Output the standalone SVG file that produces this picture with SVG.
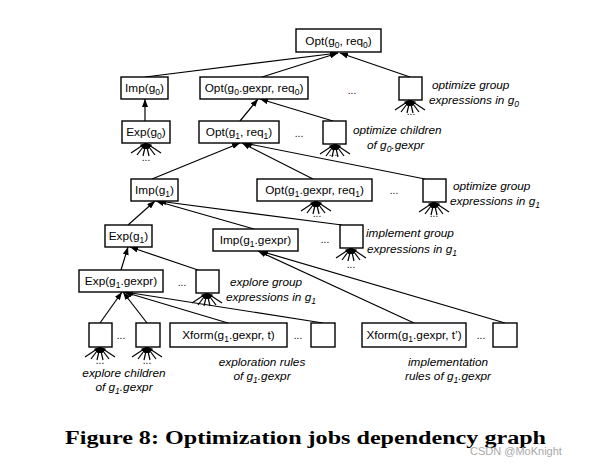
<svg xmlns="http://www.w3.org/2000/svg" width="594" height="468" viewBox="0 0 594 468">
<style>
.b{fill:#fff;stroke:#000;stroke-width:1.4}
.t{font-family:"Liberation Sans",Arial,sans-serif;font-size:11.8px;fill:#000;text-anchor:middle}
.i{font-family:"Liberation Sans",Arial,sans-serif;font-size:11.8px;font-style:italic;fill:#000}
.m{text-anchor:middle}
.s{font-size:8.5px}
.d{font-family:"Liberation Sans",Arial,sans-serif;font-size:10px;fill:#000;text-anchor:middle}
.e line{stroke:#000;stroke-width:1.2;marker-end:url(#ah)}
.f line{stroke:#000;stroke-width:1.2;marker-end:url(#fh)}
</style>
<defs>
<marker id="ah" viewBox="0 0 8 6" refX="8" refY="3" markerWidth="8" markerHeight="6" markerUnits="userSpaceOnUse" orient="auto"><path d="M0,0 L8,3 L0,6 z"/></marker>
<marker id="fh" viewBox="0 0 6 4" refX="6" refY="2" markerWidth="6" markerHeight="4" markerUnits="userSpaceOnUse" orient="auto"><path d="M0,0 L6,2 L0,4 z"/></marker>
</defs>
<rect width="594" height="468" fill="#fff"/>
<g id="connectors">
<g class="e">
<line x1="145" y1="77" x2="338" y2="53"/>
<line x1="262" y1="77" x2="338" y2="53"/>
<line x1="410" y1="77" x2="340" y2="53"/>
<line x1="145" y1="121" x2="145" y2="99"/>
<line x1="240" y1="121" x2="258" y2="99"/>
<line x1="333" y1="121" x2="260" y2="99"/>
<line x1="152" y1="179" x2="240" y2="143"/>
<line x1="313" y1="179" x2="242" y2="143"/>
<line x1="425" y1="179" x2="244" y2="143"/>
<line x1="128" y1="225" x2="155" y2="201"/>
<line x1="254" y1="229" x2="156" y2="201"/>
<line x1="342" y1="225" x2="158" y2="201"/>
<line x1="121" y1="270" x2="128" y2="247"/>
<line x1="198" y1="270" x2="130" y2="247"/>
<line x1="100" y1="323" x2="122" y2="292"/>
<line x1="147" y1="323" x2="123" y2="292"/>
<line x1="228" y1="323" x2="124" y2="292"/>
<line x1="323" y1="323" x2="125" y2="292"/>
<line x1="414" y1="323" x2="258" y2="251"/>
<line x1="505" y1="323" x2="260" y2="251"/>
</g>
<g class="f" transform="translate(410,100)"><line x1="-15" y1="10" x2="0" y2="0"/><line x1="-9" y1="12" x2="0" y2="0"/><line x1="-3" y1="13" x2="0" y2="0"/><line x1="3" y1="13" x2="0" y2="0"/><line x1="9" y1="12" x2="0" y2="0"/><line x1="15" y1="10" x2="0" y2="0"/></g>
<g class="f" transform="translate(146,143)"><line x1="-15" y1="10" x2="0" y2="0"/><line x1="-9" y1="12" x2="0" y2="0"/><line x1="-3" y1="13" x2="0" y2="0"/><line x1="3" y1="13" x2="0" y2="0"/><line x1="9" y1="12" x2="0" y2="0"/><line x1="15" y1="10" x2="0" y2="0"/></g>
<g class="f" transform="translate(335,144)"><line x1="-15" y1="10" x2="0" y2="0"/><line x1="-9" y1="12" x2="0" y2="0"/><line x1="-3" y1="13" x2="0" y2="0"/><line x1="3" y1="13" x2="0" y2="0"/><line x1="9" y1="12" x2="0" y2="0"/><line x1="15" y1="10" x2="0" y2="0"/></g>
<g class="f" transform="translate(316,201)"><line x1="-15" y1="10" x2="0" y2="0"/><line x1="-9" y1="12" x2="0" y2="0"/><line x1="-3" y1="13" x2="0" y2="0"/><line x1="3" y1="13" x2="0" y2="0"/><line x1="9" y1="12" x2="0" y2="0"/><line x1="15" y1="10" x2="0" y2="0"/></g>
<g class="f" transform="translate(434,202)"><line x1="-15" y1="10" x2="0" y2="0"/><line x1="-9" y1="12" x2="0" y2="0"/><line x1="-3" y1="13" x2="0" y2="0"/><line x1="3" y1="13" x2="0" y2="0"/><line x1="9" y1="12" x2="0" y2="0"/><line x1="15" y1="10" x2="0" y2="0"/></g>
<g class="f" transform="translate(351,248)"><line x1="-15" y1="10" x2="0" y2="0"/><line x1="-9" y1="12" x2="0" y2="0"/><line x1="-3" y1="13" x2="0" y2="0"/><line x1="3" y1="13" x2="0" y2="0"/><line x1="9" y1="12" x2="0" y2="0"/><line x1="15" y1="10" x2="0" y2="0"/></g>
<g class="f" transform="translate(207,293)"><line x1="-15" y1="10" x2="0" y2="0"/><line x1="-9" y1="12" x2="0" y2="0"/><line x1="-3" y1="13" x2="0" y2="0"/><line x1="3" y1="13" x2="0" y2="0"/><line x1="9" y1="12" x2="0" y2="0"/><line x1="15" y1="10" x2="0" y2="0"/></g>
<g class="f" transform="translate(100,347)"><line x1="-15" y1="10" x2="0" y2="0"/><line x1="-9" y1="12" x2="0" y2="0"/><line x1="-3" y1="13" x2="0" y2="0"/><line x1="3" y1="13" x2="0" y2="0"/><line x1="9" y1="12" x2="0" y2="0"/><line x1="15" y1="10" x2="0" y2="0"/></g>
<g class="f" transform="translate(147,347)"><line x1="-15" y1="10" x2="0" y2="0"/><line x1="-9" y1="12" x2="0" y2="0"/><line x1="-3" y1="13" x2="0" y2="0"/><line x1="3" y1="13" x2="0" y2="0"/><line x1="9" y1="12" x2="0" y2="0"/><line x1="15" y1="10" x2="0" y2="0"/></g>
</g>
<g id="n_opt_g0"><rect class="b" x="296" y="29" width="85" height="23"/><text class="t" x="338.5" y="45">Opt(g<tspan class="s" dy="3">0</tspan><tspan dy="-3">, req</tspan><tspan class="s" dy="3">0</tspan><tspan dy="-3">)</tspan></text></g>
<g id="n_imp_g0"><rect class="b" x="121" y="77" width="47" height="22"/><text class="t" x="144.5" y="92">Imp(g<tspan class="s" dy="3">0</tspan><tspan dy="-3">)</tspan></text></g>
<g id="n_opt_g0gexpr"><rect class="b" x="200" y="77" width="108" height="22"/><text class="t" x="254" y="92">Opt(g<tspan class="s" dy="3">0</tspan><tspan dy="-3">.gexpr, req</tspan><tspan class="s" dy="3">0</tspan><tspan dy="-3">)</tspan></text></g>
<g id="n_sb0"><rect class="b" x="399" y="77" width="23" height="23"/></g>
<g id="n_exp_g0"><rect class="b" x="122" y="121" width="48" height="22"/><text class="t" x="146" y="136">Exp(g<tspan class="s" dy="3">0</tspan><tspan dy="-3">)</tspan></text></g>
<g id="n_opt_g1"><rect class="b" x="199" y="121" width="80" height="22"/><text class="t" x="239" y="136">Opt(g<tspan class="s" dy="3">1</tspan><tspan dy="-3">, req</tspan><tspan class="s" dy="3">1</tspan><tspan dy="-3">)</tspan></text></g>
<g id="n_sbc"><rect class="b" x="323" y="121" width="23" height="23"/></g>
<g id="n_imp_g1"><rect class="b" x="131" y="179" width="47" height="22"/><text class="t" x="154.5" y="194">Imp(g<tspan class="s" dy="3">1</tspan><tspan dy="-3">)</tspan></text></g>
<g id="n_opt_g1gexpr"><rect class="b" x="257" y="179" width="115" height="22"/><text class="t" x="314.5" y="194">Opt(g<tspan class="s" dy="3">1</tspan><tspan dy="-3">.gexpr, req</tspan><tspan class="s" dy="3">1</tspan><tspan dy="-3">)</tspan></text></g>
<g id="n_sb1"><rect class="b" x="423" y="179" width="23" height="23"/></g>
<g id="n_exp_g1"><rect class="b" x="105" y="225" width="47" height="22"/><text class="t" x="128.5" y="240">Exp(g<tspan class="s" dy="3">1</tspan><tspan dy="-3">)</tspan></text></g>
<g id="n_imp_g1gexpr"><rect class="b" x="213" y="229" width="85" height="22"/><text class="t" x="255.5" y="244">Imp(g<tspan class="s" dy="3">1</tspan><tspan dy="-3">.gexpr)</tspan></text></g>
<g id="n_sbi"><rect class="b" x="340" y="225" width="23" height="23"/></g>
<g id="n_exp_g1gexpr"><rect class="b" x="79" y="270" width="84" height="22"/><text class="t" x="121" y="285">Exp(g<tspan class="s" dy="3">1</tspan><tspan dy="-3">.gexpr)</tspan></text></g>
<g id="n_sbe"><rect class="b" x="196" y="270" width="23" height="23"/></g>
<g id="n_b1"><rect class="b" x="89" y="323" width="23" height="24"/></g>
<g id="n_b2"><rect class="b" x="136" y="323" width="24" height="24"/></g>
<g id="n_xform_t"><rect class="b" x="170" y="323" width="117" height="24"/><text class="t" x="228.5" y="339">Xform(g<tspan class="s" dy="3">1</tspan><tspan dy="-3">.gexpr, t)</tspan></text></g>
<g id="n_b3"><rect class="b" x="311" y="323" width="24" height="24"/></g>
<g id="n_xform_t2"><rect class="b" x="362" y="323" width="104" height="24"/><text class="t" x="414" y="339">Xform(g<tspan class="s" dy="3">1</tspan><tspan dy="-3">.gexpr, t’)</tspan></text></g>
<g id="n_b4"><rect class="b" x="493" y="323" width="24" height="24"/></g>
<g id="annotations">
<text class="i" x="432" y="89">optimize group</text>
<text class="i" x="429" y="104">expressions in g<tspan class="s" dy="3">0</tspan></text>
<text class="i" x="353" y="134">optimize children</text>
<text class="i" x="367" y="149">of g<tspan class="s" dy="3">0</tspan><tspan dy="-3">.gexpr</tspan></text>
<text class="i" x="453" y="190">optimize group</text>
<text class="i" x="450" y="205">expressions in g<tspan class="s" dy="3">1</tspan></text>
<text class="i" x="366" y="237">implement group</text>
<text class="i" x="367" y="253">expressions in g<tspan class="s" dy="3">1</tspan></text>
<text class="i" x="230" y="286">explore group</text>
<text class="i" x="226" y="301">expressions in g<tspan class="s" dy="3">1</tspan></text>
<text class="i m" x="124" y="377">explore children</text>
<text class="i m" x="124" y="391">of g<tspan class="s" dy="3">1</tspan><tspan dy="-3">.gexpr</tspan></text>
<text class="i m" x="262" y="366">exploration rules</text>
<text class="i m" x="262" y="380">of g<tspan class="s" dy="3">1</tspan><tspan dy="-3">.gexpr</tspan></text>
<text class="i m" x="448" y="366">implementation</text>
<text class="i m" x="448" y="380">rules of g<tspan class="s" dy="3">1</tspan><tspan dy="-3">.gexpr</tspan></text>
</g>
<g id="ellipses">
<text class="d" x="352" y="94">...</text>
<text class="d" x="299" y="137">...</text>
<text class="d" x="394" y="194">...</text>
<text class="d" x="325" y="243">...</text>
<text class="d" x="182" y="286">...</text>
<text class="d" x="121" y="339">...</text>
<text class="d" x="298" y="339">...</text>
<text class="d" x="481" y="339">...</text>
<text class="d" x="411" y="115">...</text>
<text class="d" x="146" y="161">...</text>
<text class="d" x="333" y="156">...</text>
<text class="d" x="317" y="217">...</text>
<text class="d" x="434" y="217">...</text>
<text class="d" x="351" y="268">...</text>
<text class="d" x="100" y="364">...</text>
<text class="d" x="147" y="364">...</text>
</g>
<text x="65" y="444" font-family="Liberation Serif,serif" font-weight="bold" font-size="18" textLength="481" lengthAdjust="spacingAndGlyphs">Figure 8:  Optimization jobs dependency graph</text>
<text x="470" y="455" font-family="Liberation Sans,Arial,sans-serif" font-size="11" fill="#a8a8a8">CSDN @MoKnight</text>
</svg>
